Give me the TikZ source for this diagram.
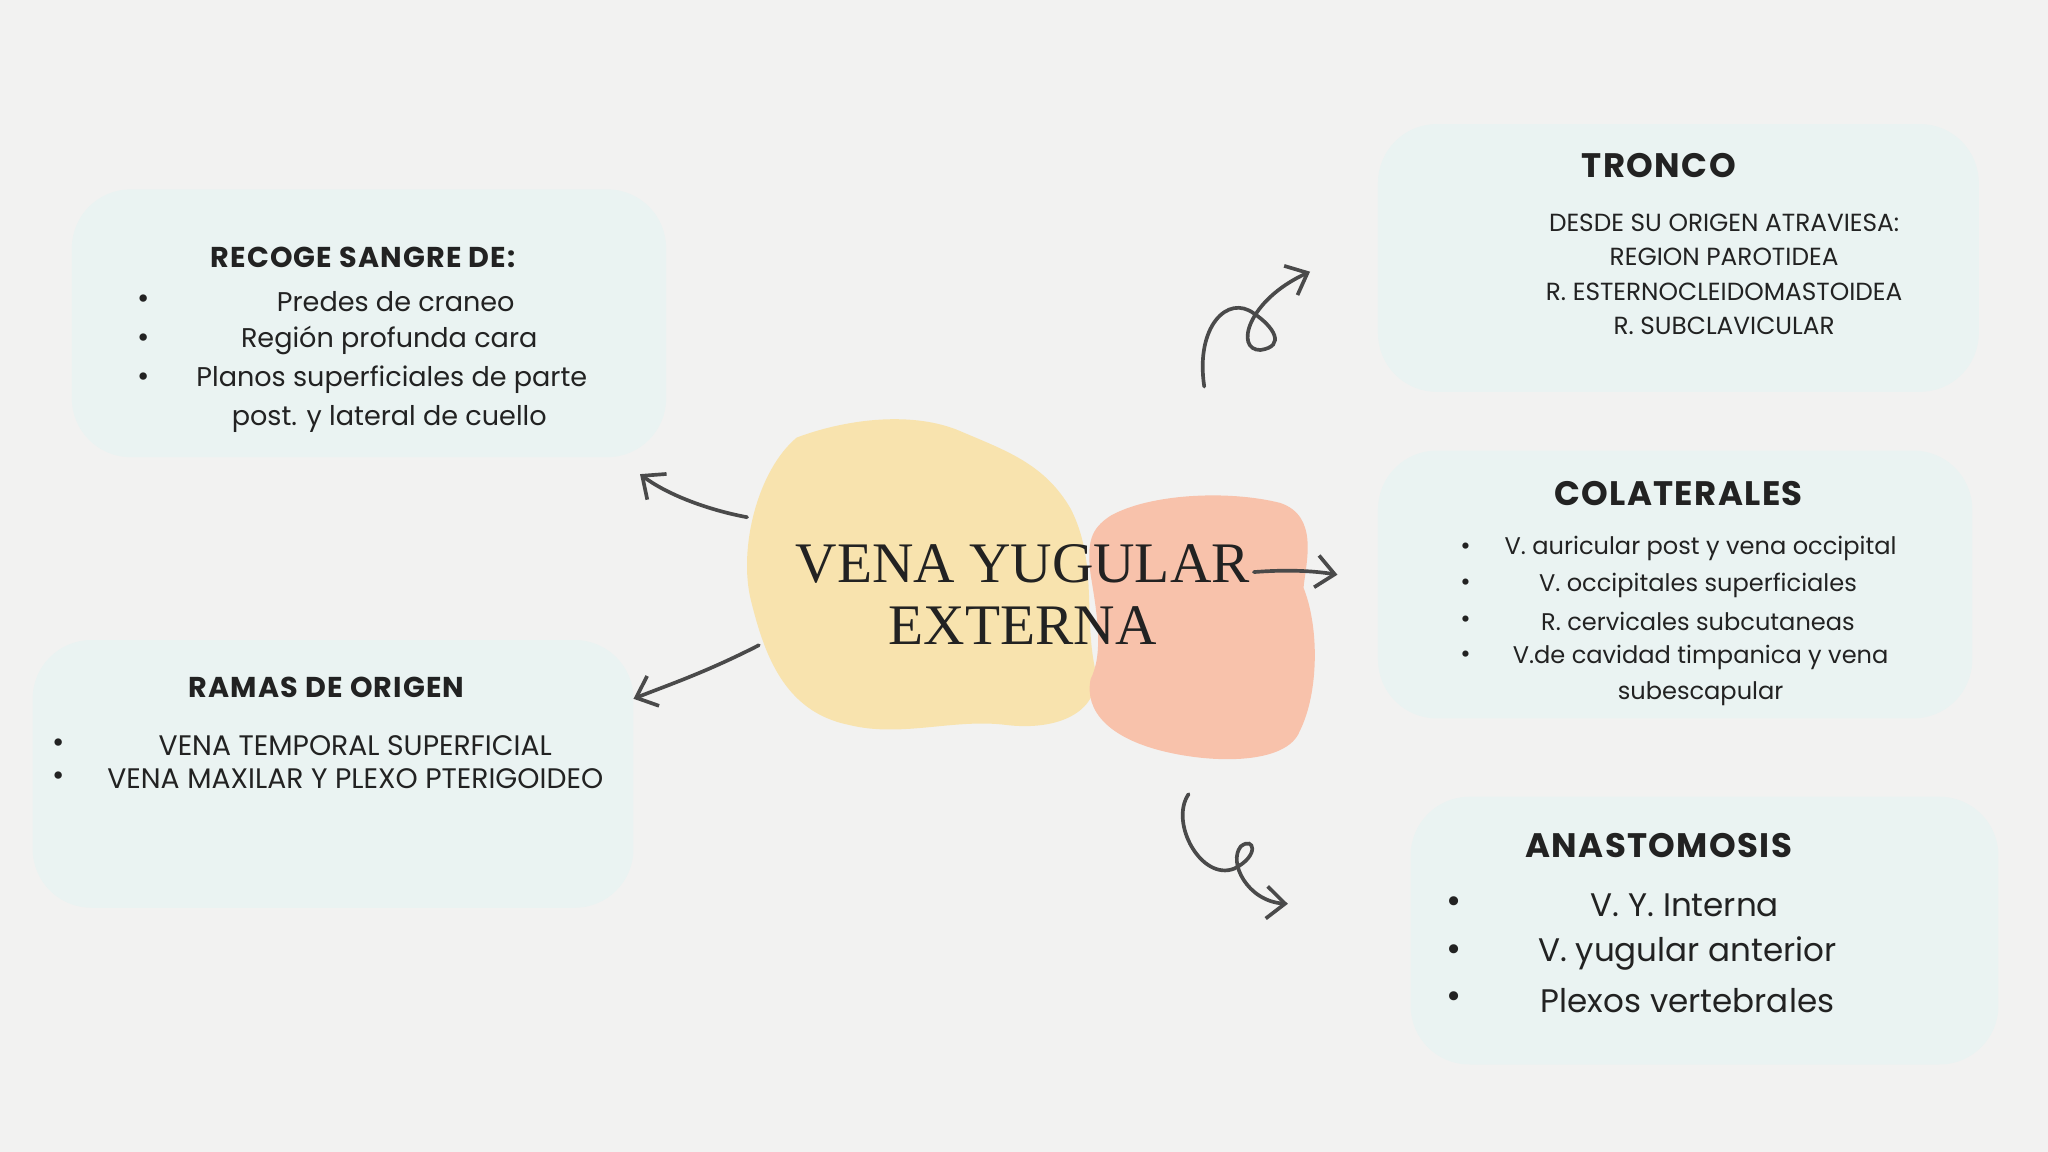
\documentclass[tikz,border=0pt]{standalone}
\usepackage{fontspec}
\setmainfont{Poppins}
\newfontfamily\titlefont{Liberation Serif}
\newfontfamily\headfont[LetterSpace=4]{Poppins}
\usetikzlibrary{arrows.meta}
\definecolor{bg}{HTML}{F2F2F1}
\definecolor{boxc}{HTML}{EAF3F2}
\definecolor{ylw}{HTML}{F8E3AE}
\definecolor{pnk}{HTML}{F8C2AB}
\definecolor{ink}{HTML}{222222}
\definecolor{arr}{HTML}{4A4A4A}
\tikzset{
  card/.style={fill=boxc,rounded corners=0.9cm,draw=none},
  head/.style={font=\headfont\fontsize{12.5}{15}\selectfont\bfseries,text=ink},
  bighead/.style={font=\headfont\fontsize{14.8}{18}\selectfont\bfseries,text=ink},
  txt/.style={font=\fontsize{11.8}{14}\selectfont,text=ink},
  rtxt/.style={font=\fontsize{12.3}{14}\selectfont,text=ink},
  ctxt/.style={font=\fontsize{10.5}{13}\selectfont,text=ink},
  stxt/.style={font=\fontsize{10.8}{13}\selectfont,text=ink},
  btxt/.style={font=\fontsize{14.2}{17}\selectfont,text=ink},
  bul/.style={font=\fontsize{13}{16}\selectfont,text=ink},
  conn/.style={draw=arr,line width=1.6pt,line cap=round,-{Straight Barb[length=8pt,width=14pt]}}
}
\begin{document}
\begin{tikzpicture}[x=0.02cm,y=-0.02cm]
\fill[bg] (0,0) rectangle (1568,882);
\useasboundingbox (0,0) rectangle (1568,882);
% cards
\fill[card] (55,145) rectangle (510,350);
\fill[card] (25,490) rectangle (485,695);
\fill[card] (1055,95) rectangle (1515,300);
\fill[card] (1055,345) rectangle (1510,550);
\fill[card] (1080,610) rectangle (1530,815);
% blobs
\fill[ylw] (610,335) .. controls (650,320) and (700,315) .. (735,330) .. controls (770,345) and (800,355) .. (820,390) .. controls (840,430) and (830,470) .. (838,510) .. controls (845,545) and (810,560) .. (770,555) .. controls (730,550) and (690,565) .. (650,555) .. controls (600,545) and (585,500) .. (575,460) .. controls (565,420) and (580,360) .. (610,335) -- cycle;
\fill[pnk] (850,395) .. controls (880,378) and (940,375) .. (980,385) .. controls (1010,395) and (1000,430) .. (998,450) .. controls (1010,480) and (1010,530) .. (995,560) .. controls (985,585) and (930,585) .. (890,575) .. controls (850,565) and (830,545) .. (835,520) .. controls (845,500) and (840,470) .. (835,440) .. controls (832,415) and (835,405) .. (850,395) -- cycle;
\node[font=\titlefont\fontsize{25}{27}\selectfont,text=ink,align=center] (title) at (783,455) {VENA YUGULAR\\EXTERNA};
% recoge
\node[head] (h1) at (278,197) {RECOGE SANGRE DE:};
\node[txt] (r1) at (303,231) {Predes de craneo};
\node[txt] (r2) at (298,261) {Región profunda cara};
\node[txt] (r3) at (300,291) {Planos superficiales de parte};
\node[txt] (r4) at (298,321) {post. y lateral de cuello};
\foreach \y in {231,261,291} \node[bul] at (110,\y) {•};
% ramas
\node[head] (h2) at (250,526) {RAMAS DE ORIGEN};
\node[rtxt] (o1) at (272,571) {VENA TEMPORAL SUPERFICIAL};
\node[rtxt] (o2) at (272,596) {VENA MAXILAR Y PLEXO PTERIGOIDEO};
\foreach \y in {571,596} \node[bul] at (45,\y) {•};
% tronco
\node[bighead] (h3) at (1270,127) {TRONCO};
\node[stxt,align=center] (t1) at (1320,210) {DESDE SU ORIGEN ATRAVIESA:\\[2pt]REGION PAROTIDEA\\[2pt]R. ESTERNOCLEIDOMASTOIDEA\\[2pt]R. SUBCLAVICULAR};
% colaterales
\node[bighead] (h4) at (1285,378) {COLATERALES};
\node[ctxt] (c1) at (1302,420) {V. auricular post y vena occipital};
\node[ctxt] (c2) at (1300,448) {V. occipitales superficiales};
\node[ctxt] (c3) at (1300,476) {R. cervicales subcutaneas};
\node[ctxt] (c4) at (1302,503) {V.de cavidad timpanica y vena};
\node[ctxt] (c5) at (1302,531) {subescapular};
\foreach \y in {420,448,476,503} \node[bul,font=\fontsize{11}{14}\selectfont] at (1122,\y) {•};
% anastomosis
\node[bighead] (h5) at (1270,647) {ANASTOMOSIS};
\node[btxt] (a1) at (1290,693) {V. Y. Interna};
\node[btxt] (a2) at (1292,730) {V. yugular anterior};
\node[btxt] (a3) at (1292,766) {Plexos vertebrales};
\foreach \y in {693,730,766} \node[bul,font=\fontsize{16}{18}\selectfont] at (1113,\y) {•};
% arrows
\coordinate (s1) at (572,396); \coordinate (e1) at (490,363);
\draw[conn] (s1) .. controls (540,390) and (510,378) .. (e1);
\coordinate (s2) at (581,494); \coordinate (e2) at (485,535);
\draw[conn] (s2) .. controls (540,515) and (510,525) .. (e2);
\coordinate (s3) at (960,438); \coordinate (e3) at (1024,440);
\draw[conn] (s3) .. controls (985,436) and (1005,437) .. (e3);
\coordinate (s4) at (922,296); \coordinate (e4) at (1003,208);
\draw[conn] (s4) .. controls (915,250) and (940,225) .. (960,240) .. controls (975,250) and (985,265) .. (965,268) .. controls (945,268) and (955,230) .. (e4);
\coordinate (s5) at (910,608); \coordinate (e5) at (986,692);
\draw[conn] (s5) .. controls (895,630) and (920,675) .. (945,665) .. controls (965,655) and (960,640) .. (950,648) .. controls (940,660) and (955,690) .. (e5);
\end{tikzpicture}
\end{document}
